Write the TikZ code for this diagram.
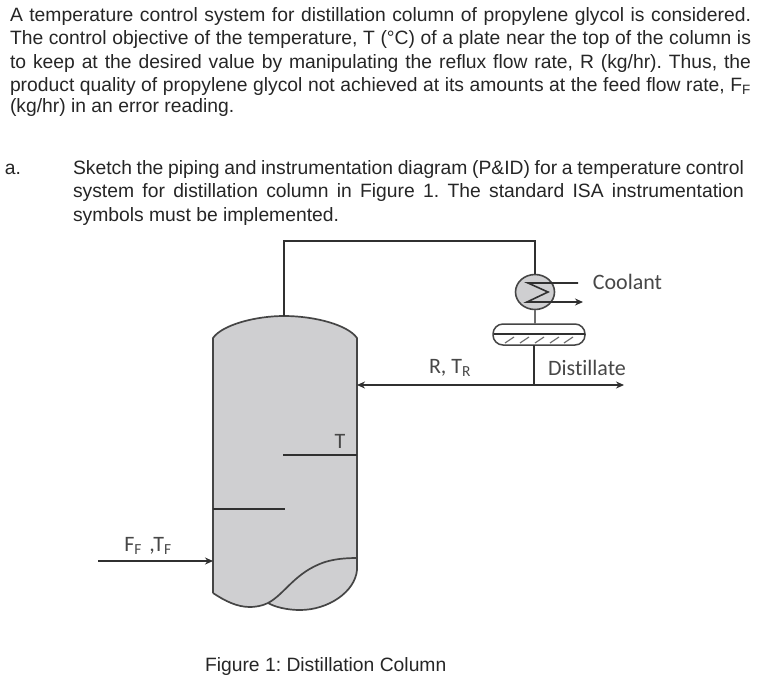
\documentclass[tikz,border=0pt]{standalone}
\usepackage{fontspec}
\setmainfont{Liberation Sans}
\newfontfamily\lblfont[Ligatures=NoCommon]{Carlito}
\usetikzlibrary{arrows.meta,shapes.geometric}
\definecolor{colfill}{HTML}{CFCFD1}
\definecolor{ink}{HTML}{262626}
\definecolor{pipe}{HTML}{303030}
\tikzset{
  x=1pt,y=-1pt,
  para/.style={anchor=base west,inner sep=0pt,outer sep=0pt,text=ink,font=\fontsize{19.3}{22}\selectfont},
  lbl/.style={inner sep=0pt,outer sep=0pt,text=ink!85,font=\lblfont\fontsize{22}{24}\selectfont},
  vessel/.style={draw=pipe!90,line width=1.7pt},
  pipeline/.style={draw=pipe,line width=1.6pt},
  flow/.style={pipeline,-{Stealth[length=8pt,width=7pt]}},
  thin line/.style={draw=pipe,line width=1.2pt}
}
\newcommand{\jline}[2]{\makebox[#1pt][s]{#2}}
\begin{document}
\begin{tikzpicture}
\frenchspacing
\useasboundingbox (0,0) rectangle (757,681);
\fill[white] (0,0) rectangle (757,681);
% text
\node[para] (l1) at (10,21.5) {\jline{741}{A temperature control system for distillation column of propylene glycol is considered.}};
\node[para] (l2) at (10,44.5) {\jline{741}{The control objective of the temperature, T (°C) of a plate near the top of the column is}};
\node[para] (l3) at (10,68) {\jline{741}{to keep at the desired value by manipulating the reflux flow rate, R (kg/hr). Thus, the}};
\node[para] (l4) at (10,91) {\jline{741}{product quality of propylene glycol not achieved at its amounts at the feed flow rate, F\textsubscript{F}}};
\node[para] (l5) at (10,112) {(kg/hr) in an error reading.};
\node[para] (a) at (5,174) {a.};
\node[para] (s1) at (73,174) {\jline{671}{Sketch the piping and instrumentation diagram (P\&ID) for a temperature control}};
\node[para] (s2) at (73,197) {\jline{671}{system for distillation column in Figure 1. The standard ISA instrumentation}};
\node[para] (s3) at (73,221) {symbols must be implemented.};
\node[para] (cap) at (205,671) {Figure 1: Distillation Column};
% column
\coordinate (top) at (284,316);
\coordinate (feedin) at (213,561);
\coordinate (refluxin) at (357,385);
\path[fill=colfill] (213,338) .. controls (222,325) and (255,316) .. (top) .. controls (315,316) and (348,325) .. (357,338)
  -- (357,570) .. controls (355,592) and (328,610) .. (300,610) .. controls (287,610) and (275,607) .. (268,603)
  .. controls (260,607) and (255,607) .. (250,607) .. controls (237,607) and (225,601) .. (213,593) -- cycle;
\draw[vessel] (213,593) -- (213,338) .. controls (222,325) and (255,316) .. (top) .. controls (315,316) and (348,325) .. (357,338) -- (357,570)
  .. controls (355,592) and (328,610) .. (300,610) .. controls (287,610) and (275,607) .. (268,603);
\draw[vessel] (213,593) .. controls (225,601) and (237,607) .. (250,607) .. controls (255,607) and (262,606) .. (268,603)
  .. controls (285,594) and (295,572) .. (325,562) .. controls (335,559) and (345,558) .. (357,558);
% trays
\coordinate (tr1a) at (283,455); \coordinate (tr1b) at (357,455);
\coordinate (tr2a) at (213,509); \coordinate (tr2b) at (285,509);
\draw[pipeline] (tr1a) -- (tr1b);
\draw[thin line] (tr2a) -- (tr2b);
% condenser
\node[ellipse,draw=pipe!90,line width=1.6pt,fill=colfill,minimum width=39pt,minimum height=35pt,inner sep=0pt] (cond) at (535,292) {};
% drum
\node[draw=pipe!90,line width=1.5pt,fill=white,rounded corners=10pt,minimum width=92pt,minimum height=21pt,inner sep=0pt] (drum) at (539,334.5) {};
\draw[thin line] (493.5,334) -- (584.5,334);
\foreach \hx in {505,520,535,550,564}
  \draw[draw=pipe!70,line width=1.2pt] (\hx,343) -- (\hx+9,337);
% pipes
\coordinate (bend1) at (284,241);
\coordinate (bend2) at (535,241);
\draw[pipeline] (top) -- (bend1) -- (bend2) -- (cond.north);
\draw[pipeline,draw=pipe!70] (cond.south) -- (535,324);
\coordinate (jn) at (534,385);
\draw[pipeline] (534,345) -- (jn);
\draw[flow] (jn) -- (refluxin);
\coordinate (distout) at (624,385);
\draw[flow] (jn) -- (distout);
\coordinate (coolin) at (578,283);
\coordinate (coolout) at (583,302);
\draw[pipeline,-{Stealth[length=8pt,width=7pt]},line join=miter] (coolin) -- (528,283) -- (548,292) -- (527,302) -- (coolout);
\coordinate (feedstart) at (98,561);
\draw[flow] (feedstart) -- (feedin);
% labels
\node[lbl] (coolant) at (627.5,282) {Coolant};
\node[lbl] (dist) at (587,368) {Distillate};
\node[lbl] (rtr) at (450,368) {R, T\textsubscript{R}};
\node[lbl] (tlab) at (340,441) {T};
\node[lbl] (fftf) at (148,546) {F\textsubscript{F}\,\,,T\textsubscript{F}};
\end{tikzpicture}
\end{document}
